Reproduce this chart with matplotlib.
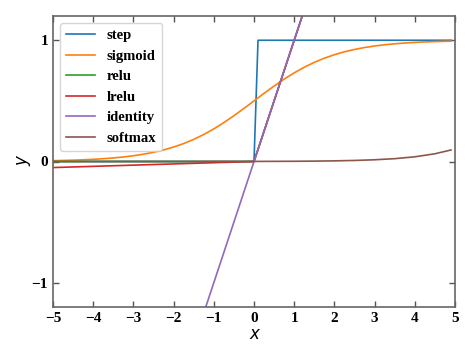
import matplotlib
matplotlib.use("Agg")
import matplotlib.pyplot as plt

# values
sig_x = [-5, -4.75, -4.5, -4.25, -4, -3.75, -3.5, -3.25, -3, -2.75, -2.5, -2.25,
         -2, -1.75, -1.5, -1.25, -1, -0.75, -0.5, -0.25, 0, 0.25, 0.5, 0.75,
         1, 1.25, 1.5, 1.75, 2, 2.25, 2.5, 2.75, 3, 3.25, 3.5, 3.75, 4, 4.25,
         4.5, 4.75, 4.9]
sigmoid = [0.0067, 0.0086, 0.0110, 0.0140, 0.0180, 0.0230, 0.0293, 0.0373, 0.0474,
           0.0601, 0.0759, 0.0953, 0.1192, 0.1480, 0.1824, 0.2227, 0.2689, 0.3208,
           0.3775, 0.4378, 0.5, 0.5622, 0.6225, 0.6792, 0.7311, 0.7773, 0.8176,
           0.8520, 0.8808, 0.9047, 0.9241, 0.9399, 0.9526, 0.9627, 0.9707, 0.9770,
           0.9820, 0.9860, 0.9890, 0.9914, 0.9926]
soft_x = [-5, -4.5, -4, -3.5, -3, -2.5, -2, -1.5, -1, -0.5, 0,
          0.5, 1, 1.5, 2, 2.5, 3, 3.5, 4, 4.5, 4.9]
softmax = [0.000005, 0.000008, 0.000013, 0.00002, 0.000035, 0.00006, 0.0001, 0.00016,
           0.00026, 0.00043, 0.0007, 0.0012, 0.0019, 0.0032, 0.0052, 0.0086,
           0.0142, 0.0234, 0.0387, 0.0637, 0.095]
step_x = [-5, 0, 0.1, 4.9]
step_y = [0, 0, 1, 1]
relu_x = [-5, 0, 4.9]
relu_y = [0, 0, 4.9]
lrelu_y = [-0.05, 0, 4.9]
ident_x = [-5, 4.9]
ident_y = [-5, 4.9]

fig = plt.figure(figsize=(4.74, 3.55), dpi=100)
ax = fig.add_axes([53 / 474, 48 / 355, 402 / 474, 291 / 355])

lw = 1.2
ax.plot(step_x, step_y, lw=lw, label="step")
ax.plot(sig_x, sigmoid, lw=lw, label="sigmoid")
ax.plot(relu_x, relu_y, lw=lw, label="relu")
ax.plot(relu_x, lrelu_y, lw=lw, label="lrelu")
ax.plot(ident_x, ident_y, lw=lw, label="identity")
ax.plot(soft_x, softmax, lw=lw, label="softmax")

ax.set_xlim(-5, 5)
ax.set_ylim(-1.2, 1.2)
ax.set_xticks([-5, -4, -3, -2, -1, 0, 1, 2, 3, 4, 5])
ax.set_yticks([-1, 0, 1])
ax.tick_params(direction="in", top=True, right=True, length=4, color="#555555", width=1)
for lab in ax.get_xticklabels() + ax.get_yticklabels():
    lab.set_fontfamily("Liberation Serif")
    lab.set_fontweight("bold")
    lab.set_fontsize(11)
for s in ax.spines.values():
    s.set_color("#666666")
    s.set_linewidth(1.2)

ax.set_xlabel("x", fontstyle="italic", fontsize=12, labelpad=0)
ax.set_ylabel("y", fontstyle="italic", fontsize=12, labelpad=0)

ax.legend(loc="upper left", prop={"family": "Liberation Serif", "weight": "bold", "size": 10.5})

fig.savefig("out.png", dpi=100)
